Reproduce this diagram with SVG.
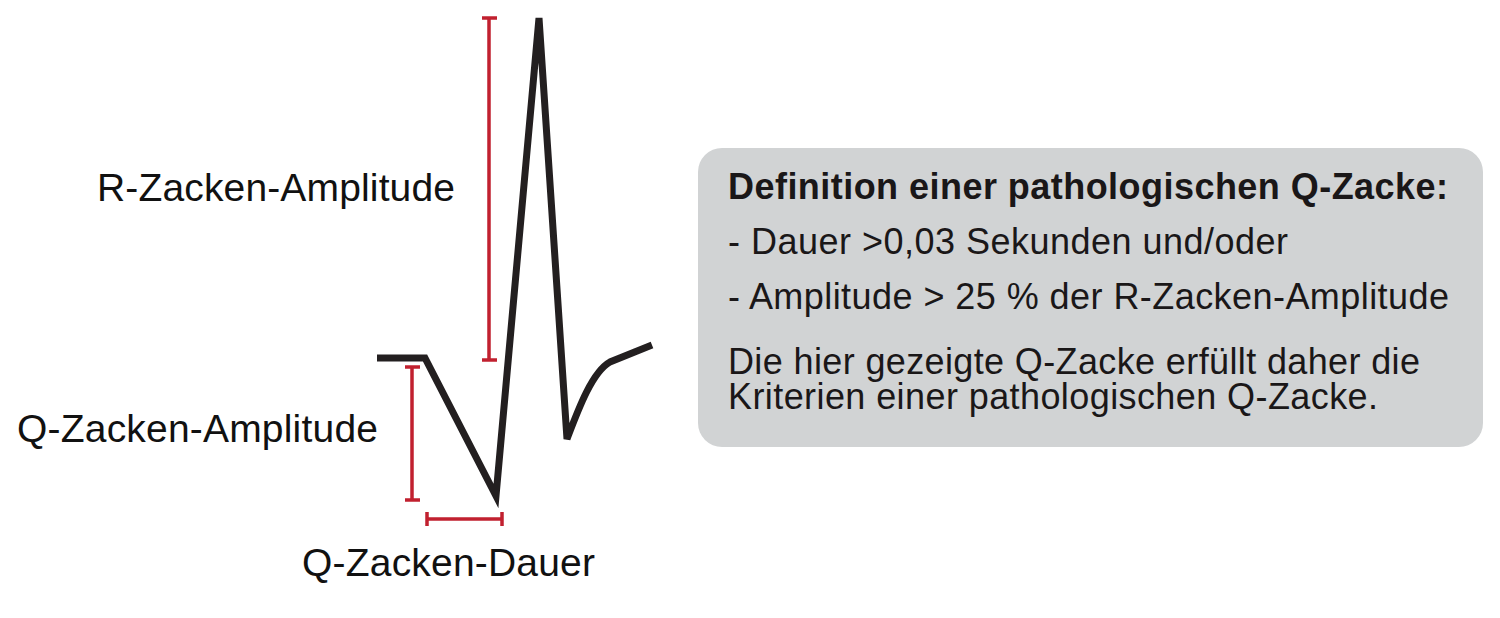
<svg xmlns="http://www.w3.org/2000/svg" width="1500" height="618" viewBox="0 0 1500 618">
<style>
.lbl{font-family:"Liberation Sans",Arial,sans-serif;font-size:39px;fill:#111}
.box{font-family:"Liberation Sans",Arial,sans-serif;font-size:36px;fill:#1a1718}
.bold{font-weight:bold}
.bar{stroke:#c1202f;stroke-width:3.5;fill:none}
.ecg{stroke:#231f20;stroke-width:7;fill:none;stroke-linejoin:miter;stroke-miterlimit:4}
</style>
<rect width="1500" height="618" fill="#ffffff"/>
<g id="ecg">
<path class="ecg" d="M377,358 L425,358 L496,496 L539,18 L567,439 C578,410 592,372 610,362 L652,345"/>
</g>
<g id="connectors">
<g id="r-amplitude-bar">
<path class="bar" d="M489,18 V360 M482,18 H497 M482,360 H497"/>
</g>
<g id="q-amplitude-bar">
<path class="bar" d="M412,367 V500 M405,367 H420 M405,500 H420"/>
</g>
<g id="q-dauer-bar">
<path class="bar" d="M427,519 H502 M427,512 V526 M502,512 V526"/>
</g>
</g>
<g id="label-r-amplitude">
<text class="lbl" x="97" y="201" textLength="358">R-Zacken-Amplitude</text>
</g>
<g id="label-q-amplitude">
<text class="lbl" x="17" y="442" textLength="361">Q-Zacken-Amplitude</text>
</g>
<g id="label-q-dauer">
<text class="lbl" x="302" y="576" textLength="293">Q-Zacken-Dauer</text>
</g>
<g id="definition-box">
<rect x="698" y="148" width="785" height="299" rx="24" ry="24" fill="#d1d3d4"/>
<text class="box bold" x="728" y="199" textLength="720">Definition einer pathologischen Q-Zacke:</text>
<text class="box" x="728" y="254" textLength="560">- Dauer &gt;0,03 Sekunden und/oder</text>
<text class="box" x="728" y="309" textLength="721">- Amplitude &gt; 25 % der R-Zacken-Amplitude</text>
<text class="box" x="728" y="374" textLength="692">Die hier gezeigte Q-Zacke erfüllt daher die</text>
<text class="box" x="728" y="409" textLength="650">Kriterien einer pathologischen Q-Zacke.</text>
</g>
</svg>
